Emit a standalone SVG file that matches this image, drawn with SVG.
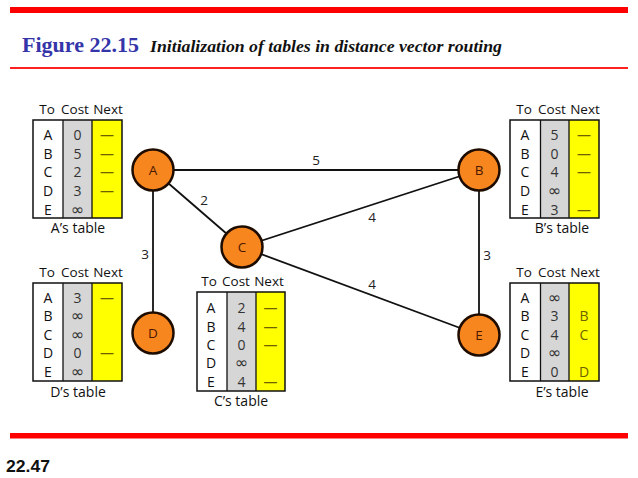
<svg xmlns="http://www.w3.org/2000/svg" width="638" height="478" viewBox="0 0 638 478">
<style>
.hdr{font-family:"Open Sans","DejaVu Sans",sans-serif;font-size:13.5px;fill:#111;text-anchor:middle}
.to{font-family:"Open Sans","DejaVu Sans",sans-serif;font-size:14px;fill:#111;text-anchor:middle}
.cost{font-family:"Open Sans","DejaVu Sans",sans-serif;font-size:14px;fill:#333;text-anchor:middle}
.inf{font-family:"DejaVu Sans","Open Sans",sans-serif;font-size:16px;fill:#333;text-anchor:middle}
.nxt{font-family:"Open Sans","DejaVu Sans",sans-serif;font-size:14px;fill:#6e6200;text-anchor:middle}
.cap{font-family:"Open Sans","DejaVu Sans",sans-serif;font-size:14px;fill:#111;text-anchor:middle}
.c1{fill:#ffffff}
.c2{fill:#d6d6d6}
.c3{fill:#ffff00}
.box{fill:none;stroke:#111;stroke-width:1.5}
.div{stroke:#111;stroke-width:1.3}
.node{fill:#f7861f;stroke:#1e0c00;stroke-width:2.5}
.nlab{font-family:"Open Sans","DejaVu Sans",sans-serif;font-size:13.5px;fill:#4a1800;text-anchor:middle}
.edge{stroke:#111;stroke-width:1.8;fill:none}
.elab{font-family:"Open Sans","DejaVu Sans",sans-serif;font-size:13.5px;fill:#222;text-anchor:middle}
</style>
<rect x="10" y="7" width="618" height="6" fill="#ff0000"/>
<text x="22" y="52" font-family="'Liberation Serif',serif" font-weight="bold" font-size="22" fill="#3535aa" textLength="117" lengthAdjust="spacingAndGlyphs">Figure 22.15</text>
<text x="150" y="52" font-family="'Liberation Serif',serif" font-weight="bold" font-style="italic" font-size="16" fill="#111" textLength="352" lengthAdjust="spacingAndGlyphs">Initialization of tables in distance vector routing</text>
<rect x="10" y="67" width="618" height="2" fill="#ff2020"/>

<g id="connectors">
<line class="edge" x1="153" y1="170" x2="479" y2="170"/>
<line class="edge" x1="153" y1="170" x2="242" y2="247"/>
<line class="edge" x1="153" y1="170" x2="153" y2="333"/>
<line class="edge" x1="242" y1="247" x2="479" y2="170"/>
<line class="edge" x1="242" y1="247" x2="479" y2="335"/>
<line class="edge" x1="479" y1="170" x2="479" y2="335"/>
<text class="elab" x="316" y="165">5</text>
<text class="elab" x="204" y="205">2</text>
<text class="elab" x="372" y="221.5">4</text>
<text class="elab" x="145" y="259">3</text>
<text class="elab" x="487" y="260">3</text>
<text class="elab" x="372" y="289">4</text>
</g>

<g id="node-A"><circle class="node" cx="153" cy="170" r="20.5"/><text class="nlab" x="153" y="175">A</text></g>
<g id="node-B"><circle class="node" cx="479" cy="170" r="20.5"/><text class="nlab" x="479" y="175">B</text></g>
<g id="node-C"><circle class="node" cx="242" cy="247" r="20.5"/><text class="nlab" x="242" y="252">C</text></g>
<g id="node-D"><circle class="node" cx="153" cy="333" r="20.5"/><text class="nlab" x="153" y="338">D</text></g>
<g id="node-E"><circle class="node" cx="479" cy="335" r="20.5"/><text class="nlab" x="479" y="340">E</text></g>

<!-- A's table -->
<g id="table-A" transform="translate(33,120)">
<rect class="c1" x="0" y="0" width="30" height="98"/><rect class="c2" x="30" y="0" width="29" height="98"/><rect class="c3" x="59" y="0" width="30" height="98"/>
<rect class="box" x="0" y="0" width="89" height="98"/><line class="div" x1="30" y1="0" x2="30" y2="98"/><line class="div" x1="59" y1="0" x2="59" y2="98"/>
<text class="hdr" x="14" y="-6.5">To</text><text class="hdr" x="42" y="-6.5">Cost</text><text class="hdr" x="75" y="-6.5">Next</text>
<text class="to" x="15" y="20">A</text><text class="to" x="15" y="38.5">B</text><text class="to" x="15" y="57">C</text><text class="to" x="15" y="76">D</text><text class="to" x="15" y="95">E</text>
<text class="cost" x="44.5" y="20">0</text><text class="cost" x="44.5" y="38.5">5</text><text class="cost" x="44.5" y="57">2</text><text class="cost" x="44.5" y="76">3</text><text class="inf" x="44.5" y="95">∞</text>
<text class="nxt" x="74" y="20">—</text><text class="nxt" x="74" y="38.5">—</text><text class="nxt" x="74" y="57">—</text><text class="nxt" x="74" y="76">—</text>
<text class="cap" x="45" y="112.5">A’s table</text>
</g>

<!-- B's table -->
<g id="table-B" transform="translate(510,120)">
<rect class="c1" x="0" y="0" width="30.5" height="98"/><rect class="c2" x="30.5" y="0" width="28.5" height="98"/><rect class="c3" x="59" y="0" width="30" height="98"/>
<rect class="box" x="0" y="0" width="89" height="98"/><line class="div" x1="30.5" y1="0" x2="30.5" y2="98"/><line class="div" x1="59" y1="0" x2="59" y2="98"/>
<text class="hdr" x="14" y="-6.5">To</text><text class="hdr" x="42" y="-6.5">Cost</text><text class="hdr" x="75" y="-6.5">Next</text>
<text class="to" x="15" y="20">A</text><text class="to" x="15" y="38.5">B</text><text class="to" x="15" y="57">C</text><text class="to" x="15" y="76">D</text><text class="to" x="15" y="95">E</text>
<text class="cost" x="44.5" y="20">5</text><text class="cost" x="44.5" y="38.5">0</text><text class="cost" x="44.5" y="57">4</text><text class="inf" x="44.5" y="76">∞</text><text class="cost" x="44.5" y="95">3</text>
<text class="nxt" x="74" y="20">—</text><text class="nxt" x="74" y="38.5">—</text><text class="nxt" x="74" y="57">—</text><text class="nxt" x="74" y="95">—</text>
<text class="cap" x="52" y="112.5">B’s table</text>
</g>

<!-- D's table -->
<g id="table-D" transform="translate(33,283)">
<rect class="c1" x="0" y="0" width="30" height="98"/><rect class="c2" x="30" y="0" width="29" height="98"/><rect class="c3" x="59" y="0" width="30" height="98"/>
<rect class="box" x="0" y="0" width="89" height="98"/><line class="div" x1="30" y1="0" x2="30" y2="98"/><line class="div" x1="59" y1="0" x2="59" y2="98"/>
<text class="hdr" x="14" y="-6.5">To</text><text class="hdr" x="42" y="-6.5">Cost</text><text class="hdr" x="75" y="-6.5">Next</text>
<text class="to" x="15" y="19.5">A</text><text class="to" x="15" y="38">B</text><text class="to" x="15" y="56.5">C</text><text class="to" x="15" y="75">D</text><text class="to" x="15" y="93.5">E</text>
<text class="cost" x="44.5" y="19.5">3</text><text class="inf" x="44.5" y="38">∞</text><text class="inf" x="44.5" y="56.5">∞</text><text class="cost" x="44.5" y="75">0</text><text class="inf" x="44.5" y="93.5">∞</text>
<text class="nxt" x="74" y="19.5">—</text><text class="nxt" x="74" y="75">—</text>
<text class="cap" x="45" y="113.5">D’s table</text>
</g>

<!-- C's table -->
<g id="table-C" transform="translate(197,292)">
<rect class="c1" x="0" y="0" width="30" height="99"/><rect class="c2" x="30" y="0" width="29" height="99"/><rect class="c3" x="59" y="0" width="29" height="99"/>
<rect class="box" x="0" y="0" width="88" height="99"/><line class="div" x1="30" y1="0" x2="30" y2="99"/><line class="div" x1="59" y1="0" x2="59" y2="99"/>
<text class="hdr" x="12" y="-6">To</text><text class="hdr" x="39" y="-6">Cost</text><text class="hdr" x="72" y="-6">Next</text>
<text class="to" x="14" y="20.5">A</text><text class="to" x="14" y="40">B</text><text class="to" x="14" y="58">C</text><text class="to" x="14" y="76">D</text><text class="to" x="14" y="94.5">E</text>
<text class="cost" x="44.5" y="20.5">2</text><text class="cost" x="44.5" y="40">4</text><text class="cost" x="44.5" y="58">0</text><text class="inf" x="44.5" y="76">∞</text><text class="cost" x="44.5" y="94.5">4</text>
<text class="nxt" x="73.5" y="20.5">—</text><text class="nxt" x="73.5" y="40">—</text><text class="nxt" x="73.5" y="58">—</text><text class="nxt" x="73.5" y="94.5">—</text>
<text class="cap" x="44" y="113.5">C’s table</text>
</g>

<!-- E's table -->
<g id="table-E" transform="translate(510,283)">
<rect class="c1" x="0" y="0" width="30.5" height="98"/><rect class="c2" x="30.5" y="0" width="28.5" height="98"/><rect class="c3" x="59" y="0" width="30" height="98"/>
<rect class="box" x="0" y="0" width="89" height="98"/><line class="div" x1="30.5" y1="0" x2="30.5" y2="98"/><line class="div" x1="59" y1="0" x2="59" y2="98"/>
<text class="hdr" x="14" y="-6.5">To</text><text class="hdr" x="42" y="-6.5">Cost</text><text class="hdr" x="75" y="-6.5">Next</text>
<text class="to" x="15" y="19.5">A</text><text class="to" x="15" y="38">B</text><text class="to" x="15" y="56.5">C</text><text class="to" x="15" y="75">D</text><text class="to" x="15" y="93.5">E</text>
<text class="inf" x="44.5" y="19.5">∞</text><text class="cost" x="44.5" y="38">3</text><text class="cost" x="44.5" y="56.5">4</text><text class="inf" x="44.5" y="75">∞</text><text class="cost" x="44.5" y="93.5">0</text>
<text class="nxt" x="74" y="38">B</text><text class="nxt" x="74" y="56.5">C</text><text class="nxt" x="74" y="93.5">D</text>
<text class="cap" x="52" y="113.5">E’s table</text>
</g>

<rect x="10" y="433" width="618" height="5.5" fill="#ff0000"/>
<text x="6" y="471.5" font-family="'Liberation Sans',Arial,sans-serif" font-weight="bold" font-size="17" fill="#111" textLength="44" lengthAdjust="spacingAndGlyphs">22.47</text>
</svg>
